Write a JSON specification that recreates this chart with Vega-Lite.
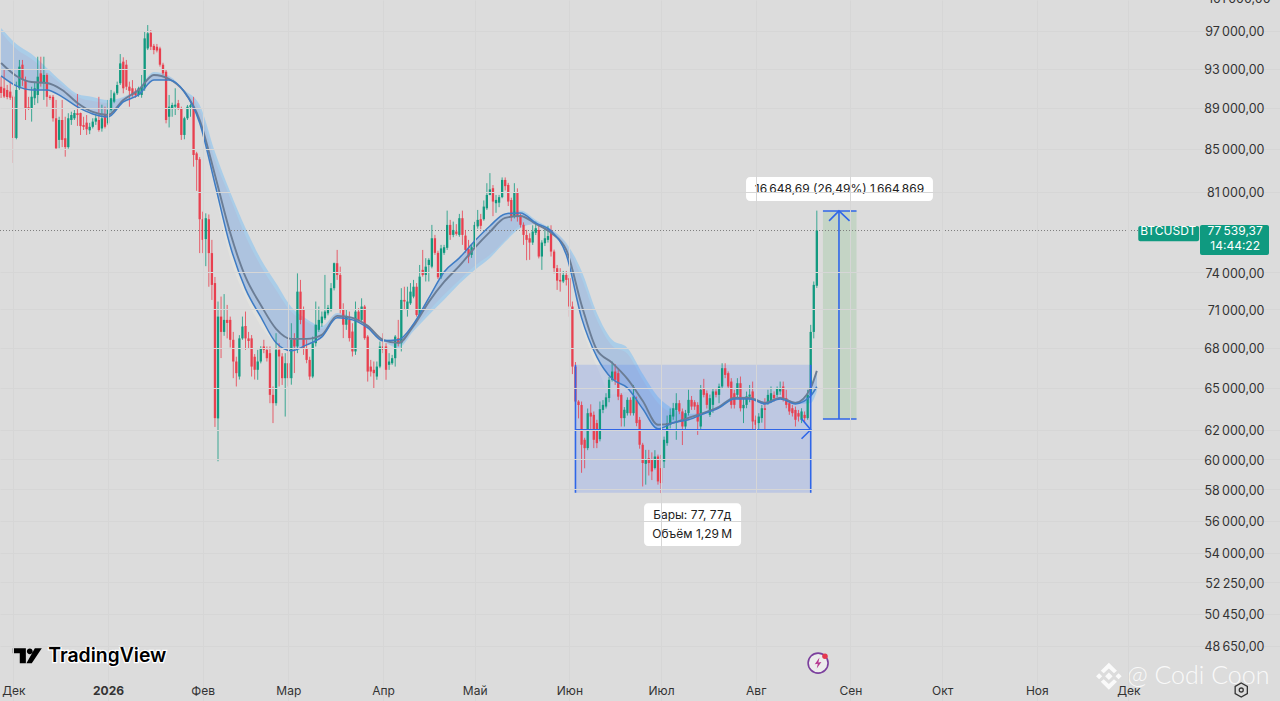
{
  "$schema": "https://vega.github.io/schema/vega-lite/v6.json",
  "width": 1280,
  "height": 701,
  "autosize": "none",
  "padding": 0,
  "background": "#dcdcdc",
  "config": {"view": {"stroke": null}, "text": {"font": "Inter"}, "bar": {"continuousBandSize": 2.3}, "scale": {"continuousPadding": 0}},
  "datasets": {
    "candles": [
      {"d":"2025-11-27","o":91120,"h":92120,"l":89975,"c":90480},
      {"d":"2025-11-28","o":90960,"h":92850,"l":89970,"c":90120},
      {"d":"2025-11-29","o":90790,"h":91300,"l":89850,"c":90070},
      {"d":"2025-11-30","o":90620,"h":91640,"l":89780,"c":90000},
      {"d":"2025-12-01","o":90110,"h":90280,"l":83650,"c":86030},
      {"d":"2025-12-02","o":86030,"h":91640,"l":85900,"c":90790},
      {"d":"2025-12-03","o":90960,"h":93900,"l":90790,"c":93190},
      {"d":"2025-12-04","o":93400,"h":93900,"l":91200,"c":91810},
      {"d":"2025-12-05","o":91810,"h":92160,"l":87780,"c":88940},
      {"d":"2025-12-06","o":89050,"h":90090,"l":88770,"c":88900},
      {"d":"2025-12-07","o":88940,"h":91120,"l":87620,"c":90090},
      {"d":"2025-12-08","o":89950,"h":91640,"l":89270,"c":90960},
      {"d":"2025-12-09","o":90280,"h":94240,"l":89450,"c":92150},
      {"d":"2025-12-10","o":92500,"h":94240,"l":91130,"c":91480},
      {"d":"2025-12-11","o":91480,"h":94240,"l":89780,"c":92330},
      {"d":"2025-12-12","o":92330,"h":92500,"l":89100,"c":90090},
      {"d":"2025-12-13","o":90110,"h":90280,"l":89780,"c":89975},
      {"d":"2025-12-14","o":90090,"h":90280,"l":87620,"c":87950},
      {"d":"2025-12-15","o":87950,"h":89780,"l":84950,"c":85040},
      {"d":"2025-12-16","o":85840,"h":88100,"l":85040,"c":87780},
      {"d":"2025-12-17","o":87780,"h":89780,"l":85150,"c":85840},
      {"d":"2025-12-18","o":86000,"h":88100,"l":84240,"c":85150},
      {"d":"2025-12-19","o":85150,"h":88450,"l":85000,"c":87950},
      {"d":"2025-12-20","o":87780,"h":88600,"l":87300,"c":88270},
      {"d":"2025-12-21","o":87950,"h":88770,"l":87780,"c":88470},
      {"d":"2025-12-22","o":88450,"h":90380,"l":87200,"c":88270},
      {"d":"2025-12-23","o":88470,"h":88510,"l":86320,"c":87180},
      {"d":"2025-12-24","o":87280,"h":88100,"l":86800,"c":87110},
      {"d":"2025-12-25","o":87520,"h":88270,"l":86320,"c":86870},
      {"d":"2025-12-26","o":86770,"h":87500,"l":86400,"c":87110},
      {"d":"2025-12-27","o":87110,"h":87950,"l":86950,"c":87620},
      {"d":"2025-12-28","o":87620,"h":88270,"l":87300,"c":87950},
      {"d":"2025-12-29","o":87780,"h":90090,"l":86640,"c":86800},
      {"d":"2025-12-30","o":86950,"h":89300,"l":86640,"c":87950},
      {"d":"2025-12-31","o":88270,"h":89100,"l":86950,"c":87110},
      {"d":"2026-01-01","o":87450,"h":89780,"l":87280,"c":88770},
      {"d":"2026-01-02","o":88770,"h":90790,"l":88600,"c":89950},
      {"d":"2026-01-03","o":89600,"h":90620,"l":89450,"c":90450},
      {"d":"2026-01-04","o":90450,"h":91640,"l":90280,"c":91300},
      {"d":"2026-01-05","o":91480,"h":94520,"l":91300,"c":93540},
      {"d":"2026-01-06","o":93720,"h":94180,"l":90450,"c":90960},
      {"d":"2026-01-07","o":93400,"h":93900,"l":90790,"c":91120},
      {"d":"2026-01-08","o":91120,"h":91640,"l":89100,"c":90700},
      {"d":"2026-01-09","o":90960,"h":91800,"l":90100,"c":90280},
      {"d":"2026-01-10","o":90620,"h":90960,"l":90000,"c":90280},
      {"d":"2026-01-11","o":90280,"h":91120,"l":90100,"c":90960},
      {"d":"2026-01-12","o":90280,"h":92330,"l":90000,"c":91120},
      {"d":"2026-01-13","o":90960,"h":96900,"l":90700,"c":96200},
      {"d":"2026-01-14","o":95120,"h":97650,"l":94950,"c":96750},
      {"d":"2026-01-15","o":96800,"h":97100,"l":94950,"c":95300},
      {"d":"2026-01-16","o":95400,"h":95600,"l":94500,"c":94950},
      {"d":"2026-01-17","o":95300,"h":95600,"l":94700,"c":94900},
      {"d":"2026-01-18","o":95120,"h":95300,"l":93200,"c":93400},
      {"d":"2026-01-19","o":93400,"h":93600,"l":92300,"c":92500},
      {"d":"2026-01-20","o":92670,"h":92850,"l":87450,"c":87780},
      {"d":"2026-01-21","o":88100,"h":90280,"l":87050,"c":89100},
      {"d":"2026-01-22","o":88940,"h":89500,"l":88100,"c":89270},
      {"d":"2026-01-23","o":89100,"h":90960,"l":88270,"c":89300},
      {"d":"2026-01-24","o":89450,"h":89780,"l":88770,"c":88940},
      {"d":"2026-01-25","o":88940,"h":89100,"l":85840,"c":86320},
      {"d":"2026-01-26","o":86320,"h":88100,"l":85900,"c":87950},
      {"d":"2026-01-27","o":87950,"h":89270,"l":87780,"c":89100},
      {"d":"2026-01-28","o":89050,"h":89400,"l":88100,"c":89250},
      {"d":"2026-01-29","o":89100,"h":90090,"l":83300,"c":84400},
      {"d":"2026-01-30","o":84550,"h":84700,"l":81070,"c":83930},
      {"d":"2026-01-31","o":84000,"h":84200,"l":75600,"c":78530},
      {"d":"2026-02-01","o":78530,"h":79200,"l":75600,"c":76730},
      {"d":"2026-02-02","o":76800,"h":79050,"l":74500,"c":78620},
      {"d":"2026-02-03","o":78530,"h":78950,"l":72800,"c":75600},
      {"d":"2026-02-04","o":75600,"h":76730,"l":71730,"c":72950},
      {"d":"2026-02-05","o":73100,"h":73600,"l":62200,"c":62820},
      {"d":"2026-02-06","o":62800,"h":71600,"l":59850,"c":70400},
      {"d":"2026-02-07","o":70400,"h":72000,"l":67200,"c":69200},
      {"d":"2026-02-08","o":69200,"h":72200,"l":68900,"c":70140},
      {"d":"2026-02-09","o":70140,"h":71330,"l":68700,"c":69900},
      {"d":"2026-02-10","o":70140,"h":70400,"l":68000,"c":68590},
      {"d":"2026-02-11","o":68590,"h":69200,"l":65700,"c":66940},
      {"d":"2026-02-12","o":66940,"h":67300,"l":65090,"c":66070},
      {"d":"2026-02-13","o":65820,"h":68950,"l":65600,"c":68700},
      {"d":"2026-02-14","o":68700,"h":70400,"l":68590,"c":69620},
      {"d":"2026-02-15","o":69660,"h":70800,"l":67820,"c":68700},
      {"d":"2026-02-16","o":68700,"h":69200,"l":67900,"c":68500},
      {"d":"2026-02-17","o":68700,"h":68960,"l":65820,"c":66560},
      {"d":"2026-02-18","o":67300,"h":67500,"l":65600,"c":66320},
      {"d":"2026-02-19","o":66320,"h":67820,"l":65580,"c":66940},
      {"d":"2026-02-20","o":66940,"h":68100,"l":66800,"c":67950},
      {"d":"2026-02-21","o":68080,"h":68590,"l":67570,"c":67820},
      {"d":"2026-02-22","o":67820,"h":68080,"l":66940,"c":67190},
      {"d":"2026-02-23","o":67570,"h":68080,"l":63880,"c":64480},
      {"d":"2026-02-24","o":64480,"h":65090,"l":62470,"c":63880},
      {"d":"2026-02-25","o":63880,"h":69100,"l":63700,"c":67820},
      {"d":"2026-02-26","o":67820,"h":68330,"l":65090,"c":67320},
      {"d":"2026-02-27","o":67320,"h":67570,"l":65200,"c":65700},
      {"d":"2026-02-28","o":65700,"h":67570,"l":62930,"c":66810},
      {"d":"2026-03-01","o":66810,"h":68590,"l":65090,"c":65700},
      {"d":"2026-03-02","o":65700,"h":69880,"l":65220,"c":68590},
      {"d":"2026-03-03","o":68720,"h":69100,"l":66080,"c":68080},
      {"d":"2026-03-04","o":68080,"h":73900,"l":67570,"c":72400},
      {"d":"2026-03-05","o":72400,"h":73360,"l":69800,"c":70140},
      {"d":"2026-03-06","o":70930,"h":71200,"l":67440,"c":67950},
      {"d":"2026-03-07","o":67950,"h":68590,"l":66810,"c":67060},
      {"d":"2026-03-08","o":67060,"h":67300,"l":65580,"c":65820},
      {"d":"2026-03-09","o":65820,"h":68840,"l":65700,"c":68330},
      {"d":"2026-03-10","o":68330,"h":71600,"l":68080,"c":69760},
      {"d":"2026-03-11","o":69360,"h":71200,"l":69200,"c":70140},
      {"d":"2026-03-12","o":69880,"h":70800,"l":69600,"c":70400},
      {"d":"2026-03-13","o":70270,"h":73770,"l":70140,"c":70800},
      {"d":"2026-03-14","o":70660,"h":71330,"l":70500,"c":71100},
      {"d":"2026-03-15","o":70930,"h":73100,"l":70800,"c":72680},
      {"d":"2026-03-16","o":72680,"h":74800,"l":72500,"c":74750},
      {"d":"2026-03-17","o":74750,"h":75870,"l":73360,"c":73770},
      {"d":"2026-03-18","o":73770,"h":74460,"l":70660,"c":70930},
      {"d":"2026-03-19","o":70930,"h":71460,"l":68720,"c":69760},
      {"d":"2026-03-20","o":69760,"h":70930,"l":69360,"c":70400},
      {"d":"2026-03-21","o":70140,"h":70800,"l":68460,"c":68720},
      {"d":"2026-03-22","o":69230,"h":69880,"l":67320,"c":67700},
      {"d":"2026-03-23","o":67700,"h":71600,"l":67440,"c":70800},
      {"d":"2026-03-24","o":70800,"h":71070,"l":70000,"c":70140},
      {"d":"2026-03-25","o":70140,"h":71860,"l":70000,"c":71200},
      {"d":"2026-03-26","o":71200,"h":71330,"l":68590,"c":68720},
      {"d":"2026-03-27","o":68840,"h":68960,"l":65450,"c":66190},
      {"d":"2026-03-28","o":66560,"h":67060,"l":65820,"c":66190},
      {"d":"2026-03-29","o":66320,"h":66940,"l":64970,"c":66070},
      {"d":"2026-03-30","o":65820,"h":66940,"l":65580,"c":66560},
      {"d":"2026-03-31","o":66560,"h":68460,"l":66440,"c":68080},
      {"d":"2026-04-01","o":68080,"h":69100,"l":67570,"c":67820},
      {"d":"2026-04-02","o":68080,"h":68330,"l":65580,"c":66320},
      {"d":"2026-04-03","o":66690,"h":67570,"l":66320,"c":66940},
      {"d":"2026-04-04","o":66810,"h":67440,"l":66690,"c":67190},
      {"d":"2026-04-05","o":67190,"h":68960,"l":66560,"c":68840},
      {"d":"2026-04-06","o":68710,"h":70140,"l":68080,"c":68330},
      {"d":"2026-04-07","o":68330,"h":72680,"l":67700,"c":71730},
      {"d":"2026-04-08","o":71730,"h":72800,"l":70930,"c":71600},
      {"d":"2026-04-09","o":70930,"h":72800,"l":70400,"c":71600},
      {"d":"2026-04-10","o":71460,"h":73100,"l":71330,"c":72400},
      {"d":"2026-04-11","o":72000,"h":73360,"l":71860,"c":72800},
      {"d":"2026-04-12","o":72800,"h":73100,"l":70400,"c":70530},
      {"d":"2026-04-13","o":70530,"h":74600,"l":70400,"c":73630},
      {"d":"2026-04-14","o":74190,"h":75870,"l":73630,"c":73770},
      {"d":"2026-04-15","o":73770,"h":75170,"l":73230,"c":74460},
      {"d":"2026-04-16","o":74600,"h":75170,"l":73230,"c":75030},
      {"d":"2026-04-17","o":74460,"h":78030,"l":74320,"c":76870},
      {"d":"2026-04-18","o":76870,"h":77160,"l":75450,"c":75620},
      {"d":"2026-04-19","o":75620,"h":75800,"l":73430,"c":73580},
      {"d":"2026-04-20","o":73580,"h":76300,"l":73430,"c":76000},
      {"d":"2026-04-21","o":75620,"h":76300,"l":75450,"c":76100},
      {"d":"2026-04-22","o":76050,"h":79290,"l":75870,"c":78030},
      {"d":"2026-04-23","o":78030,"h":78470,"l":76730,"c":77160},
      {"d":"2026-04-24","o":77160,"h":78320,"l":76960,"c":77590},
      {"d":"2026-04-25","o":77450,"h":78100,"l":77100,"c":77250},
      {"d":"2026-04-26","o":77160,"h":79000,"l":77000,"c":78620},
      {"d":"2026-04-27","o":78620,"h":79290,"l":76300,"c":77160},
      {"d":"2026-04-28","o":77100,"h":77590,"l":75620,"c":75870},
      {"d":"2026-04-29","o":75930,"h":76730,"l":74750,"c":75300},
      {"d":"2026-04-30","o":75450,"h":76300,"l":75200,"c":76100},
      {"d":"2026-05-01","o":76100,"h":78300,"l":75950,"c":78030},
      {"d":"2026-05-02","o":77900,"h":79350,"l":77700,"c":78470},
      {"d":"2026-05-03","o":78530,"h":79000,"l":77650,"c":77950},
      {"d":"2026-05-04","o":78530,"h":80200,"l":78400,"c":79650},
      {"d":"2026-05-05","o":79500,"h":81770,"l":79350,"c":80700},
      {"d":"2026-05-06","o":80700,"h":82700,"l":80670,"c":81200},
      {"d":"2026-05-07","o":81310,"h":81600,"l":78800,"c":80100},
      {"d":"2026-05-08","o":79950,"h":80700,"l":79100,"c":80250},
      {"d":"2026-05-09","o":80000,"h":80700,"l":79600,"c":80500},
      {"d":"2026-05-10","o":80500,"h":82300,"l":80400,"c":82070},
      {"d":"2026-05-11","o":82070,"h":82300,"l":81100,"c":81500},
      {"d":"2026-05-12","o":81610,"h":81800,"l":79700,"c":80100},
      {"d":"2026-05-13","o":80250,"h":80450,"l":78350,"c":78750},
      {"d":"2026-05-14","o":78750,"h":81770,"l":78600,"c":80900},
      {"d":"2026-05-15","o":80900,"h":81300,"l":78320,"c":78750},
      {"d":"2026-05-16","o":78800,"h":79000,"l":77800,"c":78040},
      {"d":"2026-05-17","o":78040,"h":78250,"l":76300,"c":77160},
      {"d":"2026-05-18","o":77150,"h":77600,"l":75000,"c":76730},
      {"d":"2026-05-19","o":76870,"h":77300,"l":75030,"c":76500},
      {"d":"2026-05-20","o":76500,"h":78000,"l":76300,"c":77450},
      {"d":"2026-05-21","o":77340,"h":78320,"l":77150,"c":77740},
      {"d":"2026-05-22","o":77590,"h":78000,"l":75150,"c":75310},
      {"d":"2026-05-23","o":75310,"h":76700,"l":74190,"c":76500},
      {"d":"2026-05-24","o":76440,"h":77700,"l":76200,"c":76870},
      {"d":"2026-05-25","o":76730,"h":77950,"l":76500,"c":77060},
      {"d":"2026-05-26","o":77520,"h":78000,"l":75310,"c":75730},
      {"d":"2026-05-27","o":75730,"h":75900,"l":73900,"c":74330},
      {"d":"2026-05-28","o":74330,"h":74600,"l":72540,"c":73300},
      {"d":"2026-05-29","o":73360,"h":74330,"l":72400,"c":73230},
      {"d":"2026-05-30","o":73230,"h":74100,"l":73100,"c":73770},
      {"d":"2026-05-31","o":73770,"h":74100,"l":72900,"c":73360},
      {"d":"2026-06-01","o":73500,"h":73800,"l":70400,"c":71200},
      {"d":"2026-06-02","o":71200,"h":71600,"l":66000,"c":66560},
      {"d":"2026-06-03","o":66560,"h":66900,"l":63900,"c":64000},
      {"d":"2026-06-04","o":64000,"h":64100,"l":62800,"c":63750},
      {"d":"2026-06-05","o":63750,"h":64000,"l":59080,"c":60970},
      {"d":"2026-06-06","o":61310,"h":61450,"l":59380,"c":60740},
      {"d":"2026-06-07","o":60740,"h":63500,"l":60600,"c":63170},
      {"d":"2026-06-08","o":63200,"h":63800,"l":62000,"c":62930},
      {"d":"2026-06-09","o":63050,"h":63290,"l":60740,"c":61310},
      {"d":"2026-06-10","o":62470,"h":62700,"l":60740,"c":61080},
      {"d":"2026-06-11","o":61350,"h":64000,"l":61200,"c":63450},
      {"d":"2026-06-12","o":63400,"h":64100,"l":63170,"c":63760},
      {"d":"2026-06-13","o":63640,"h":64600,"l":63500,"c":64300},
      {"d":"2026-06-14","o":64250,"h":65800,"l":63950,"c":65580},
      {"d":"2026-06-15","o":65580,"h":66940,"l":65450,"c":66190},
      {"d":"2026-06-16","o":66190,"h":66750,"l":65200,"c":65580},
      {"d":"2026-06-17","o":66070,"h":66440,"l":64100,"c":64350},
      {"d":"2026-06-18","o":64480,"h":64600,"l":62230,"c":62820},
      {"d":"2026-06-19","o":62820,"h":63600,"l":62230,"c":63410},
      {"d":"2026-06-20","o":63170,"h":64300,"l":63000,"c":64120},
      {"d":"2026-06-21","o":64120,"h":64300,"l":63000,"c":63170},
      {"d":"2026-06-22","o":63170,"h":65200,"l":63000,"c":64370},
      {"d":"2026-06-23","o":64120,"h":64350,"l":62250,"c":62470},
      {"d":"2026-06-24","o":62700,"h":62900,"l":60700,"c":60970},
      {"d":"2026-06-25","o":60970,"h":61100,"l":58180,"c":59730},
      {"d":"2026-06-26","o":59680,"h":60620,"l":58300,"c":59950},
      {"d":"2026-06-27","o":60060,"h":60620,"l":58900,"c":59730},
      {"d":"2026-06-28","o":59950,"h":60450,"l":58600,"c":59170},
      {"d":"2026-06-29","o":59400,"h":60600,"l":59300,"c":60170},
      {"d":"2026-06-30","o":60170,"h":60300,"l":58300,"c":58510},
      {"d":"2026-07-01","o":59390,"h":60280,"l":57750,"c":58400},
      {"d":"2026-07-02","o":59830,"h":61530,"l":59400,"c":61310},
      {"d":"2026-07-03","o":61080,"h":63000,"l":60900,"c":62470},
      {"d":"2026-07-04","o":62350,"h":63500,"l":62100,"c":63050},
      {"d":"2026-07-05","o":62930,"h":63900,"l":62700,"c":63520},
      {"d":"2026-07-06","o":63400,"h":64600,"l":61310,"c":63880},
      {"d":"2026-07-07","o":63880,"h":64100,"l":63100,"c":63290},
      {"d":"2026-07-08","o":63290,"h":63500,"l":60950,"c":62230},
      {"d":"2026-07-09","o":62230,"h":63400,"l":62000,"c":63170},
      {"d":"2026-07-10","o":63170,"h":64850,"l":63000,"c":64120},
      {"d":"2026-07-11","o":64120,"h":64400,"l":63400,"c":63640},
      {"d":"2026-07-12","o":63950,"h":64100,"l":63400,"c":63640},
      {"d":"2026-07-13","o":63760,"h":63950,"l":61650,"c":62580},
      {"d":"2026-07-14","o":62230,"h":65200,"l":62000,"c":64850},
      {"d":"2026-07-15","o":64970,"h":65650,"l":64300,"c":64480},
      {"d":"2026-07-16","o":64600,"h":64800,"l":63500,"c":63760},
      {"d":"2026-07-17","o":63050,"h":64500,"l":62900,"c":64240},
      {"d":"2026-07-18","o":63760,"h":64970,"l":63200,"c":64730},
      {"d":"2026-07-19","o":64730,"h":64900,"l":64300,"c":64480},
      {"d":"2026-07-20","o":64480,"h":65300,"l":63880,"c":65090},
      {"d":"2026-07-21","o":65090,"h":66810,"l":64970,"c":66440},
      {"d":"2026-07-22","o":66440,"h":66810,"l":65700,"c":65940},
      {"d":"2026-07-23","o":66070,"h":66200,"l":64970,"c":65090},
      {"d":"2026-07-24","o":65450,"h":65700,"l":63500,"c":63760},
      {"d":"2026-07-25","o":64600,"h":64850,"l":63500,"c":63760},
      {"d":"2026-07-26","o":64480,"h":65700,"l":64300,"c":65330},
      {"d":"2026-07-27","o":65330,"h":65820,"l":63290,"c":63520},
      {"d":"2026-07-28","o":63520,"h":64240,"l":62470,"c":63760},
      {"d":"2026-07-29","o":63760,"h":64720,"l":63520,"c":64370},
      {"d":"2026-07-30","o":64350,"h":65200,"l":63950,"c":64500},
      {"d":"2026-07-31","o":64730,"h":65450,"l":62000,"c":62580},
      {"d":"2026-08-01","o":62700,"h":63000,"l":62000,"c":62350},
      {"d":"2026-08-02","o":62470,"h":63170,"l":62000,"c":62930},
      {"d":"2026-08-03","o":62820,"h":63760,"l":62500,"c":63520},
      {"d":"2026-08-04","o":63520,"h":64240,"l":62000,"c":63400},
      {"d":"2026-08-05","o":63880,"h":64850,"l":63760,"c":64480},
      {"d":"2026-08-06","o":64000,"h":65090,"l":63900,"c":64600},
      {"d":"2026-08-07","o":64480,"h":64730,"l":64000,"c":64240},
      {"d":"2026-08-08","o":64480,"h":65090,"l":64300,"c":64970},
      {"d":"2026-08-09","o":64730,"h":65450,"l":64480,"c":64970},
      {"d":"2026-08-10","o":65090,"h":65450,"l":64000,"c":64240},
      {"d":"2026-08-11","o":64240,"h":64850,"l":63520,"c":63760},
      {"d":"2026-08-12","o":63880,"h":64100,"l":63050,"c":63290},
      {"d":"2026-08-13","o":63520,"h":63760,"l":62930,"c":63170},
      {"d":"2026-08-14","o":63400,"h":63640,"l":62230,"c":62700},
      {"d":"2026-08-15","o":63170,"h":63400,"l":62580,"c":62930},
      {"d":"2026-08-16","o":62700,"h":63520,"l":62470,"c":63290},
      {"d":"2026-08-17","o":63050,"h":63290,"l":62470,"c":62820},
      {"d":"2026-08-18","o":62820,"h":64850,"l":62700,"c":64480},
      {"d":"2026-08-19","o":64480,"h":69750,"l":64300,"c":69200},
      {"d":"2026-08-20","o":69200,"h":73230,"l":68700,"c":72950},
      {"d":"2026-08-21","o":72880,"h":79290,"l":72700,"c":77539.37}
    ],
    "ma": [
      {"d":"2025-11-27","hi":97330,"hi2":96890,"g":93580,"b":92230,"lo2":92230,"lo":92230},
      {"d":"2025-12-02","hi":95600,"hi2":95060,"g":92230,"b":91200,"lo2":91200,"lo":91200},
      {"d":"2025-12-07","hi":94530,"hi2":94000,"g":91600,"b":90790,"lo2":90790,"lo":90790},
      {"d":"2025-12-12","hi":93060,"hi2":92640,"g":91500,"b":90790,"lo2":90790,"lo":90790},
      {"d":"2025-12-17","hi":91600,"hi2":91300,"g":90790,"b":90080,"lo2":90080,"lo":90080},
      {"d":"2025-12-22","hi":90380,"hi2":90080,"g":89475,"b":89075,"lo2":89075,"lo":89075},
      {"d":"2025-12-27","hi":90080,"hi2":89675,"g":88575,"b":88375,"lo2":88375,"lo":88375},
      {"d":"2026-01-01","hi":89775,"hi2":89475,"g":88275,"b":88075,"lo2":88075,"lo":88075},
      {"d":"2026-01-06","hi":90080,"hi2":89980,"g":89775,"b":89575,"lo2":89575,"lo":89575},
      {"d":"2026-01-11","hi":90990,"hi2":90890,"g":90790,"b":90280,"lo2":90280,"lo":90280},
      {"d":"2026-01-16","hi":92640,"hi2":92440,"g":92330,"b":91810,"lo2":91810,"lo":91810},
      {"d":"2026-01-21","hi":92230,"hi2":92120,"g":91910,"b":91810,"lo2":91810,"lo":91810},
      {"d":"2026-01-26","hi":90790,"hi2":90690,"g":90590,"b":90590,"lo2":90590,"lo":90590},
      {"d":"2026-01-31","hi":89270,"hi2":88774,"g":87784,"b":87490,"lo2":87490,"lo":87490},
      {"d":"2026-02-05","hi":84690,"hi2":83932,"g":82530,"b":81700,"lo2":81700,"lo":81700},
      {"d":"2026-02-10","hi":80970,"hi2":80430,"g":77340,"b":76210,"lo2":76210,"lo":76210},
      {"d":"2026-02-15","hi":77770,"hi2":77070,"g":73600,"b":72625,"lo2":72625,"lo":72625},
      {"d":"2026-02-20","hi":75110,"hi2":74520,"g":71330,"b":70380,"lo2":70380,"lo":70380},
      {"d":"2026-02-25","hi":73115,"hi2":72543,"g":69440,"b":68360,"lo2":68360,"lo":68360},
      {"d":"2026-03-02","hi":71170,"hi2":70775,"g":68660,"b":67745,"lo2":67745,"lo":67745},
      {"d":"2026-03-07","hi":70220,"hi2":69985,"g":68660,"b":68200,"lo2":68200,"lo":68200},
      {"d":"2026-03-12","hi":69670,"hi2":69440,"g":68970,"b":68820,"lo2":68820,"lo":68820},
      {"d":"2026-03-17","hi":70695,"hi2":70615,"g":70460,"b":70300,"lo2":70300,"lo":70300},
      {"d":"2026-03-22","hi":70380,"hi2":70340,"g":70300,"b":70142,"lo2":70142,"lo":70142},
      {"d":"2026-03-27","hi":69750,"hi2":69720,"g":69670,"b":69515,"lo2":69515,"lo":69515},
      {"d":"2026-04-01","hi":68660,"hi2":68620,"g":68586,"b":68510,"lo2":68510,"lo":68510},
      {"d":"2026-04-06","hi":68586,"hi2":68586,"g":68355,"b":68586,"lo2":68125,"lo":67970},
      {"d":"2026-04-11","hi":69830,"hi2":69830,"g":69670,"b":69830,"lo2":69440,"lo":69280},
      {"d":"2026-04-16","hi":71895,"hi2":71895,"g":71575,"b":71895,"lo2":70855,"lo":70535},
      {"d":"2026-04-21","hi":74020,"hi2":74020,"g":73195,"b":74020,"lo2":72140,"lo":71734},
      {"d":"2026-04-26","hi":75195,"hi2":75195,"g":74520,"b":75195,"lo2":73360,"lo":73035},
      {"d":"2026-05-01","hi":76640,"hi2":76640,"g":76040,"b":76640,"lo2":74520,"lo":74189},
      {"d":"2026-05-06","hi":77940,"hi2":77940,"g":77420,"b":77940,"lo2":75450,"lo":75195},
      {"d":"2026-05-11","hi":79000,"hi2":79000,"g":78645,"b":79000,"lo2":76728,"lo":76560},
      {"d":"2026-05-16","hi":79300,"hi2":79090,"g":78820,"b":79090,"lo2":77940,"lo":77770},
      {"d":"2026-05-21","hi":78469,"hi2":78300,"g":78120,"b":78200,"lo2":78120,"lo":78120},
      {"d":"2026-05-26","hi":77680,"hi2":77600,"g":77340,"b":77510,"lo2":77340,"lo":77340},
      {"d":"2026-05-31","hi":76470,"hi2":76300,"g":75872,"b":75450,"lo2":75450,"lo":75450},
      {"d":"2026-06-05","hi":74105,"hi2":73525,"g":71330,"b":70300,"lo2":70300,"lo":70300},
      {"d":"2026-06-10","hi":70695,"hi2":70142,"g":67821,"b":67290,"lo2":67290,"lo":67290},
      {"d":"2026-06-15","hi":68586,"hi2":68125,"g":66840,"b":65650,"lo2":65650,"lo":65650},
      {"d":"2026-06-20","hi":67970,"hi2":67520,"g":65650,"b":64990,"lo2":64990,"lo":64990},
      {"d":"2026-06-25","hi":66020,"hi2":65577,"g":64050,"b":63480,"lo2":63480,"lo":63480},
      {"d":"2026-06-30","hi":64340,"hi2":63900,"g":62350,"b":62070,"lo2":62070,"lo":62070},
      {"d":"2026-07-05","hi":63480,"hi2":63190,"g":62490,"b":62490,"lo2":62490,"lo":62490},
      {"d":"2026-07-10","hi":63120,"hi2":63050,"g":62840,"b":62700,"lo2":62700,"lo":62700},
      {"d":"2026-07-15","hi":63260,"hi2":63260,"g":63190,"b":63120,"lo2":63120,"lo":63120},
      {"d":"2026-07-20","hi":63690,"hi2":63690,"g":63620,"b":63550,"lo2":63550,"lo":63550},
      {"d":"2026-07-25","hi":64340,"hi2":64340,"g":64265,"b":64190,"lo2":64190,"lo":64190},
      {"d":"2026-07-30","hi":64340,"hi2":64340,"g":64265,"b":64190,"lo2":64190,"lo":64190},
      {"d":"2026-08-04","hi":63980,"hi2":63980,"g":63905,"b":63830,"lo2":63830,"lo":63830},
      {"d":"2026-08-09","hi":64340,"hi2":64340,"g":64265,"b":64190,"lo2":64190,"lo":64190},
      {"d":"2026-08-14","hi":63980,"hi2":63980,"g":63905,"b":63830,"lo2":63830,"lo":63830},
      {"d":"2026-08-19","hi":64990,"hi2":64990,"g":64990,"b":64410,"lo2":64410,"lo":63900},
      {"d":"2026-08-21","hi":66240,"hi2":66240,"g":66240,"b":65070,"lo2":65070,"lo":64750}
    ],
    "faint": [
      {"k":"feb","d":"2026-02-05","b":81700,"f":81154},
      {"k":"feb","d":"2026-02-10","b":76210,"f":75195},
      {"k":"feb","d":"2026-02-15","b":72625,"f":71975},
      {"k":"feb","d":"2026-02-20","b":70380,"f":69670},
      {"k":"feb","d":"2026-02-25","b":68360,"f":68280},
      {"k":"jun","d":"2026-06-05","b":70300,"f":69515},
      {"k":"jun","d":"2026-06-10","b":67290,"f":66540},
      {"k":"jun","d":"2026-06-15","b":65650,"f":64480},
      {"k":"jun","d":"2026-06-20","b":64990,"f":64700},
      {"k":"jun","d":"2026-06-25","b":63480,"f":63480}
    ],
    "draw": [
      {"n":1,"k":"leftEdge","d":"2026-06-03","p":66690},
      {"n":2,"k":"leftEdge","d":"2026-06-03","p":57770},
      {"n":3,"k":"rightEdge","d":"2026-08-19","p":66690},
      {"n":4,"k":"rightEdge","d":"2026-08-19","p":57770},
      {"n":5,"k":"span","d":"2026-06-03","p":62000},
      {"n":6,"k":"span","d":"2026-08-19","p":62000},
      {"n":7,"k":"spanHead","d":"2026-08-16","p":62770},
      {"n":8,"k":"spanHead","d":"2026-08-19","p":62000},
      {"n":9,"k":"spanHead","d":"2026-08-16","p":61380},
      {"n":10,"k":"rise","d":"2026-08-28T06:00","p":62760},
      {"n":11,"k":"rise","d":"2026-08-28T06:00","p":79260},
      {"n":12,"k":"riseTop","d":"2026-08-23","p":79260},
      {"n":13,"k":"riseTop","d":"2026-09-03","p":79260},
      {"n":14,"k":"riseBottom","d":"2026-08-23","p":62760},
      {"n":15,"k":"riseBottom","d":"2026-09-03","p":62760},
      {"n":16,"k":"riseHead","d":"2026-08-25","p":78380},
      {"n":17,"k":"riseHead","d":"2026-08-28T06:00","p":79260},
      {"n":18,"k":"riseHead","d":"2026-08-31T17:00","p":78380}
    ]
  },
  "layer": [
    {
      "data": {"values": [
        {"d":"2026-12-26T00:00","d2":"2027-01-19T14:24","p":45732,"p2":100434},
        {"d":"2025-11-26T15:30","d2":"2027-01-19T14:24","p":45732,"p2":46820}
      ]},
      "mark": {"type": "rect", "color": "#dcdcdc"},
      "encoding": {
        "x": {
          "field": "d", "type": "temporal", "title": null,
          "scale": {"padding": 0, "domain": [
            {"year": 2025, "month": 11, "date": 26, "hours": 15, "minutes": 30},
            {"year": 2027, "month": 1, "date": 19, "hours": 14, "minutes": 24}
          ]},
          "axis": {
            "orient": "bottom", "zindex": 1, "domain": false, "ticks": false,
            "grid": true, "gridColor": "#d6d6d6", "gridWidth": 1,
            "values": [
              {"year": 2025, "month": 12, "date": 1}, {"year": 2026, "month": 1, "date": 1},
              {"year": 2026, "month": 2, "date": 1}, {"year": 2026, "month": 3, "date": 1},
              {"year": 2026, "month": 4, "date": 1}, {"year": 2026, "month": 5, "date": 1},
              {"year": 2026, "month": 6, "date": 1}, {"year": 2026, "month": 7, "date": 1},
              {"year": 2026, "month": 8, "date": 1}, {"year": 2026, "month": 9, "date": 1},
              {"year": 2026, "month": 10, "date": 1}, {"year": 2026, "month": 11, "date": 1},
              {"year": 2026, "month": 12, "date": 1}
            ],
            "labelExpr": "month(datum.value)==0 ? '2026' : ['','Фев','Мар','Апр','Май','Июн','Июл','Авг','Сен','Окт','Ноя','Дек'][month(datum.value)]",
            "labelFont": "Inter", "labelFontSize": 12, "labelColor": "#333333",
            "labelFontWeight": {"expr": "month(datum.value)==0 ? 'bold' : 'normal'"},
            "labelPadding": -11, "labelBaseline": "middle", "labelOverlap": false, "labelFlush": false
          }
        },
        "x2": {"field": "d2"},
        "y": {
          "field": "p", "type": "quantitative", "title": null,
          "scale": {"type": "log", "domain": [45732, 100434], "nice": false, "zero": false},
          "axis": {
            "orient": "right", "zindex": 1, "domain": false, "ticks": false,
            "grid": true, "gridColor": "#d6d6d6", "gridWidth": 1,
            "values": [97000, 93000, 89000, 85000, 81000, 74000, 71000, 68000, 65000, 62000, 60000, 58000, 56000, 54000, 52250, 50450, 48650],
            "labelExpr": "replace(replace(format(datum.value,',.2f'),',','\u2009'),'.',',')",
            "labelFont": "Inter", "labelFontSize": 12.5, "labelColor": "#333333",
            "labelAlign": "right", "labelBaseline": "middle", "labelPadding": -16, "labelOffset": 1, "labelOverlap": false, "labelFlush": false
          }
        },
        "y2": {"field": "p2"}
      }
    },
    {
      "data": {"name": "faint"},
      "mark": {"type": "area", "color": "#e2e2de", "interpolate": "monotone"},
      "encoding": {
        "x": {"field": "d", "type": "temporal"},
        "y": {"field": "b", "type": "quantitative"},
        "y2": {"field": "f"},
        "detail": {"field": "k"}
      }
    },
    {
      "data": {"name": "ma"},
      "mark": {"type": "area", "color": "#aacde8", "interpolate": "monotone"},
      "encoding": {
        "x": {"field": "d", "type": "temporal"},
        "y": {"field": "hi", "type": "quantitative"},
        "y2": {"field": "lo"}
      }
    },
    {
      "data": {"name": "ma"},
      "mark": {"type": "area", "color": "#adc3df", "interpolate": "monotone"},
      "encoding": {
        "x": {"field": "d", "type": "temporal"},
        "y": {"field": "hi2", "type": "quantitative"},
        "y2": {"field": "lo2"}
      }
    },
    {
      "data": {"values": [{"d":"2026-06-03","d2":"2026-08-19","p":66690,"p2":57770}]},
      "mark": {"type": "rect", "color": "#2962ff", "opacity": 0.17},
      "encoding": {
        "x": {"field": "d", "type": "temporal"}, "x2": {"field": "d2"},
        "y": {"field": "p", "type": "quantitative"}, "y2": {"field": "p2"}
      }
    },
    {
      "data": {"values": [{"d":"2026-08-23","d2":"2026-09-03","p":79260,"p2":62760}]},
      "mark": {"type": "rect", "color": "#4caf50", "opacity": 0.16},
      "encoding": {
        "x": {"field": "d", "type": "temporal"}, "x2": {"field": "d2"},
        "y": {"field": "p", "type": "quantitative"}, "y2": {"field": "p2"}
      }
    },
    {
      "data": {"values": [{"d":"2025-11-26T15:30","d2":"2026-12-04T05:00","p":77539.37}]},
      "mark": {"type": "rule", "color": "#7d7d7d", "strokeDash": [1, 2], "strokeWidth": 1},
      "encoding": {
        "x": {"field": "d", "type": "temporal"}, "x2": {"field": "d2"},
        "y": {"field": "p", "type": "quantitative"}
      }
    },
    {
      "data": {"name": "candles"},
      "mark": {"type": "rule", "strokeWidth": 1, "opacity": 0.8},
      "encoding": {
        "x": {"field": "d", "type": "temporal"},
        "y": {"field": "l", "type": "quantitative"},
        "y2": {"field": "h"},
        "color": {"condition": {"test": "datum.c>=datum.o", "value": "#129a80"}, "value": "#e8404f"}
      }
    },
    {
      "data": {"name": "candles"},
      "mark": {"type": "bar", "size": 2.3},
      "encoding": {
        "x": {"field": "d", "type": "temporal"},
        "y": {"field": "o", "type": "quantitative"},
        "y2": {"field": "c"},
        "color": {"condition": {"test": "datum.c>=datum.o", "value": "#129a80"}, "value": "#e8404f"}
      }
    },
    {
      "data": {"name": "ma"},
      "mark": {"type": "line", "color": "#6b7d95", "strokeWidth": 1.9, "interpolate": "monotone"},
      "encoding": {
        "x": {"field": "d", "type": "temporal"},
        "y": {"field": "g", "type": "quantitative"}
      }
    },
    {
      "data": {"name": "ma"},
      "mark": {"type": "line", "color": "#3f7cc4", "strokeWidth": 1.5, "interpolate": "monotone"},
      "encoding": {
        "x": {"field": "d", "type": "temporal"},
        "y": {"field": "b", "type": "quantitative"}
      }
    },
    {
      "data": {"name": "draw"},
      "mark": {"type": "line", "color": "#2f66e8", "strokeWidth": 1.6},
      "encoding": {
        "x": {"field": "d", "type": "temporal"},
        "y": {"field": "p", "type": "quantitative"},
        "detail": {"field": "k"},
        "order": {"field": "n", "type": "quantitative"}
      }
    },
    {
      "data": {"values": [
        {"d":"2026-07-28T20:00","d2":"2026-09-28","p":82340,"p2":80150},
        {"d":"2026-06-25T11:00","d2":"2026-07-27T05:00","p":57100,"p2":54420}
      ]},
      "mark": {"type": "rect", "color": "#ffffff", "cornerRadius": 4},
      "encoding": {
        "x": {"field": "d", "type": "temporal"}, "x2": {"field": "d2"},
        "y": {"field": "p", "type": "quantitative"}, "y2": {"field": "p2"}
      }
    },
    {
      "data": {"values": [
        {"d":"2026-08-28T10:00","p":81230,"t":"16\u2009648,69 (26,49%) 1\u2009664\u2009869"},
        {"d":"2026-07-11T05:00","p":56350,"t":"Бары: 77, 77д"},
        {"d":"2026-07-11T05:00","p":55150,"t":"Объём 1,29\u2009M"}
      ]},
      "mark": {"type": "text", "fontSize": 12, "color": "#222222", "align": "center", "baseline": "middle"},
      "encoding": {
        "x": {"field": "d", "type": "temporal"},
        "y": {"field": "p", "type": "quantitative"},
        "text": {"field": "t"}
      }
    },
    {
      "data": {"values": [
        {"d":"2026-12-04T05:00","d2":"2026-12-24T03:00","p":77930,"p2":76620},
        {"d":"2026-12-24T10:00","d2":"2027-01-16","p":78020,"p2":75440}
      ]},
      "mark": {"type": "rect", "color": "#0f9a80", "cornerRadius": 2},
      "encoding": {
        "x": {"field": "d", "type": "temporal"}, "x2": {"field": "d2"},
        "y": {"field": "p", "type": "quantitative"}, "y2": {"field": "p2"}
      }
    },
    {
      "data": {"values": [
        {"d":"2026-12-14","p":77539,"t":"BTCUSDT"},
        {"d":"2027-01-04T22:00","p":77539,"t":"77\u2009539,37"},
        {"d":"2027-01-04T22:00","p":76200,"t":"14:44:22"}
      ]},
      "mark": {"type": "text", "fontSize": 12, "color": "#ffffff", "align": "center", "baseline": "middle"},
      "encoding": {
        "x": {"field": "d", "type": "temporal"},
        "y": {"field": "p", "type": "quantitative"},
        "text": {"field": "t"}
      }
    },
    {
      "data": {"values": [{"d":"2026-12-27","p":100530,"t":"101\u2009000,00"}]},
      "mark": {"type": "text", "fontSize": 12.5, "color": "#333333", "align": "left", "baseline": "middle"},
      "encoding": {
        "x": {"field": "d", "type": "temporal"},
        "y": {"field": "p", "type": "quantitative"},
        "text": {"field": "t"}
      }
    },
    {
      "data": {"values": [{"d":"2025-12-05T14:00","p":48110}]},
      "mark": {"type": "point", "shape": "M-1,-0.52 H-0.1 V0.52 H-0.52 V-0.17 H-1 Z M-0.03,-0.31 a0.2,0.2 0 1,0 0.4,0 a0.2,0.2 0 1,0 -0.4,0 Z M0.52,-0.52 H1 L0.31,0.52 H-0.06 Z", "filled": true, "color": "#000000", "opacity": 1, "size": 841},
      "encoding": {"x": {"field": "d", "type": "temporal"}, "y": {"field": "p", "type": "quantitative"}}
    },
    {
      "data": {"values": [{"d":"2025-12-12T10:00","p":48090,"t":"TradingView"}]},
      "mark": {"type": "text", "font": "Inter", "fontSize": 19.4, "fontWeight": 600, "color": "#ffffff", "stroke": "#ffffff", "strokeWidth": 2.5, "align": "left", "baseline": "middle"},
      "encoding": {"x": {"field": "d", "type": "temporal"}, "y": {"field": "p", "type": "quantitative"}, "text": {"field": "t"}}
    },
    {
      "data": {"values": [{"d":"2025-12-12T10:00","p":48090,"t":"TradingView"}]},
      "mark": {"type": "text", "font": "Inter", "fontSize": 19.4, "fontWeight": 600, "color": "#000000", "align": "left", "baseline": "middle"},
      "encoding": {"x": {"field": "d", "type": "temporal"}, "y": {"field": "p", "type": "quantitative"}, "text": {"field": "t"}}
    },
    {
      "data": {"values": [{"d":"2026-08-21T10:00","p":47720}]},
      "mark": {"type": "point", "shape": "circle", "filled": false, "fill": "#ececec", "stroke": "#7b3f9d", "strokeWidth": 1.6, "opacity": 1, "size": 400},
      "encoding": {"x": {"field": "d", "type": "temporal"}, "y": {"field": "p", "type": "quantitative"}}
    },
    {
      "data": {"values": [{"d":"2026-08-21T10:00","p":47720}]},
      "mark": {"type": "point", "shape": "M0.25,-1 L-0.6,0.2 L-0.05,0.1 L-0.25,1 L0.6,-0.2 L0.05,-0.1 Z", "filled": true, "color": "#b5358f", "opacity": 1, "size": 121},
      "encoding": {"x": {"field": "d", "type": "temporal"}, "y": {"field": "p", "type": "quantitative"}}
    },
    {
      "data": {"values": [{"d":"2026-08-23T16:00","p":48090}]},
      "mark": {"type": "point", "shape": "circle", "filled": true, "color": "#e53950", "opacity": 1, "size": 30},
      "encoding": {"x": {"field": "d", "type": "temporal"}, "y": {"field": "p", "type": "quantitative"}}
    },
    {
      "data": {"values": [{"d":"2027-01-06T22:00","p":46300}]},
      "mark": {"type": "point", "shape": "M0,-1 L0.87,-0.5 L0.87,0.5 L0,1 L-0.87,0.5 L-0.87,-0.5 Z", "filled": false, "color": "#333333", "strokeWidth": 1.3, "opacity": 1, "size": 196},
      "encoding": {"x": {"field": "d", "type": "temporal"}, "y": {"field": "p", "type": "quantitative"}}
    },
    {
      "data": {"values": [{"d":"2027-01-06T22:00","p":46300}]},
      "mark": {"type": "point", "shape": "circle", "filled": false, "color": "#333333", "strokeWidth": 1.3, "opacity": 1, "size": 16},
      "encoding": {"x": {"field": "d", "type": "temporal"}, "y": {"field": "p", "type": "quantitative"}}
    },
    {
      "data": {"values": [{"d":"2026-11-24T14:00","p":47020}]},
      "mark": {"type": "point", "shape": "M0,-0.28 L0.28,0 L0,0.28 L-0.28,0 Z M-0.95,0 L-0.72,-0.23 L-0.49,0 L-0.72,0.23 Z M0.95,0 L0.72,-0.23 L0.49,0 L0.72,0.23 Z M0,-1 L0.6,-0.4 L0.38,-0.22 L0,-0.58 L-0.38,-0.22 L-0.6,-0.4 Z M0,1 L0.6,0.4 L0.38,0.22 L0,0.58 L-0.38,0.22 L-0.6,0.4 Z", "filled": true, "color": "#ffffff", "opacity": 0.85, "size": 729},
      "encoding": {"x": {"field": "d", "type": "temporal"}, "y": {"field": "p", "type": "quantitative"}}
    },
    {
      "data": {"values": [{"d":"2026-11-30T12:00","p":47020,"t":"@ Codi Coon"}]},
      "mark": {"type": "text", "font": "Lato", "fontSize": 25, "fontWeight": 300, "color": "#ffffff", "opacity": 0.85, "align": "left", "baseline": "middle"},
      "encoding": {"x": {"field": "d", "type": "temporal"}, "y": {"field": "p", "type": "quantitative"}, "text": {"field": "t"}}
    }
  ]
}
